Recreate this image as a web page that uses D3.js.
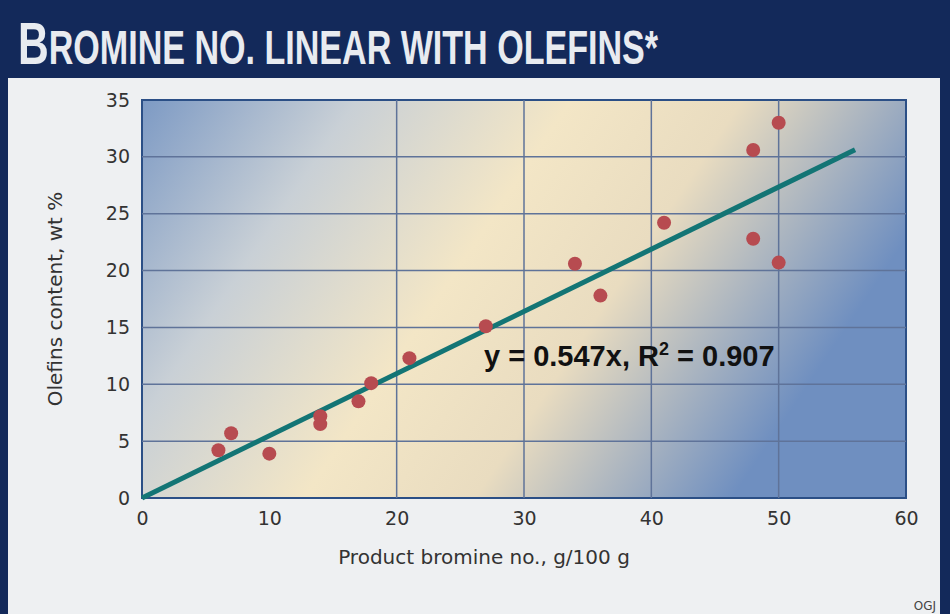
<!DOCTYPE html>
<html>
<head>
<script src="https://cdnjs.cloudflare.com/ajax/libs/d3/7.8.5/d3.min.js"></script>
<style>
  body { margin:0; background:#13295a; }
  svg { display:block; }
</style>
</head>
<body>
<svg width="950" height="614"></svg>
<script>
var bromine = [6, 7, 10, 14, 14, 17, 18, 21, 27, 34, 36, 41, 48, 48, 50, 50];
var olefins = [4.2, 5.7, 3.9, 7.2, 6.5, 8.5, 10.1, 12.3, 15.1, 20.6, 17.8, 24.2, 30.6, 22.8, 33, 20.7];
var slope = 0.547;
var fitRange = [0, 56];
var xTicks = [0, 10, 20, 30, 40, 50, 60];
var yTicks = [0, 5, 10, 15, 20, 25, 30, 35];
var vGrid = [20, 30, 40, 50];

var svg = d3.select("svg");
var x = d3.scaleLinear().domain([0, 60]).range([142, 906]);
var y = d3.scaleLinear().domain([0, 35]).range([498, 100]);

svg.append("rect").attr("width", 950).attr("height", 614).attr("fill", "#13295a");
svg.append("rect").attr("x", 8).attr("y", 78).attr("width", 932).attr("height", 536).attr("fill", "#eef0f2");

var title = svg.append("text").attr("x", 18).attr("y", 64)
  .attr("font-family", "Liberation Sans Narrow, Arial Narrow, sans-serif")
  .attr("font-weight", "bold").attr("fill", "#e8ebf0")
  .attr("textLength", 640).attr("lengthAdjust", "spacingAndGlyphs");
title.append("tspan").attr("font-size", 60).text("B");
title.append("tspan").attr("font-size", 48).text("ROMINE NO. LINEAR WITH OLEFINS*");

var defs = svg.append("defs");
var grad = defs.append("linearGradient").attr("id", "bg")
  .attr("x1", "0").attr("y1", "0").attr("x2", "1").attr("y2", "0.35");
[["0%", "#7d9ac4"], ["25%", "#c9d0d6"], ["50%", "#f3e6c6"], ["70%", "#e9dcc0"], ["100%", "#6f8fc0"]]
  .forEach(function(s) { grad.append("stop").attr("offset", s[0]).attr("stop-color", s[1]); });

svg.append("rect").attr("x", x(0)).attr("y", y(35)).attr("width", x(60) - x(0)).attr("height", y(0) - y(35))
  .attr("fill", "url(#bg)").attr("stroke", "#2b4f86").attr("stroke-width", 2);

var g = svg.append("g");
g.selectAll(".hg").data(yTicks.slice(1, -1)).enter().append("line")
  .attr("x1", x(0)).attr("x2", x(60)).attr("y1", d => y(d)).attr("y2", d => y(d))
  .attr("stroke", "#5f7399").attr("stroke-width", 1.5);
g.selectAll(".vg").data(vGrid).enter().append("line")
  .attr("y1", y(0)).attr("y2", y(35)).attr("x1", d => x(d)).attr("x2", d => x(d))
  .attr("stroke", "#5f7399").attr("stroke-width", 1.5);

svg.append("line").attr("x1", x(fitRange[0])).attr("y1", y(slope * fitRange[0]))
  .attr("x2", x(fitRange[1])).attr("y2", y(slope * fitRange[1]))
  .attr("stroke", "#137575").attr("stroke-width", 5);

svg.selectAll(".pt").data(bromine).enter().append("circle")
  .attr("cx", d => x(d)).attr("cy", (d, i) => y(olefins[i])).attr("r", 7)
  .attr("fill", "#b74b50");

var ax = svg.append("g").attr("transform", "translate(0," + y(0) + ")")
  .call(d3.axisBottom(x).tickValues(xTicks).tickSize(0).tickPadding(14).tickFormat(d3.format("d")));
var ay = svg.append("g").attr("transform", "translate(" + x(0) + ",0)")
  .call(d3.axisLeft(y).tickValues(yTicks).tickSize(0).tickPadding(12));
[ax, ay].forEach(function(a) {
  a.select(".domain").remove();
  a.selectAll("text").attr("font-family", "DejaVu Sans, sans-serif").attr("font-size", 19).attr("fill", "#333");
});

svg.append("text").attr("x", (x(0) + x(60)) / 2 - 40).attr("y", 564).attr("text-anchor", "middle")
  .attr("font-family", "DejaVu Sans, sans-serif").attr("font-size", 20).attr("fill", "#333")
  .text("Product bromine no., g/100 g");
svg.append("text").attr("transform", "translate(62," + (y(17.5)) + ") rotate(-90)").attr("text-anchor", "middle")
  .attr("font-family", "DejaVu Sans, sans-serif").attr("font-size", 20).attr("fill", "#333")
  .text("Olefins content, wt %");

var eq = svg.append("text").attr("x", 484).attr("y", 366)
  .attr("font-family", "Liberation Sans, Arial, sans-serif").attr("font-weight", "bold")
  .attr("font-size", 29).attr("fill", "#111");
eq.append("tspan").text("y = 0.547x, R");
eq.append("tspan").attr("font-size", 18).attr("dy", -11).text("2");
eq.append("tspan").attr("dy", 11).text(" = 0.907");

svg.append("text").attr("x", 936).attr("y", 610).attr("text-anchor", "end")
  .attr("font-family", "DejaVu Sans, sans-serif").attr("font-size", 12).attr("fill", "#444").text("OGJ");
</script>
</body>
</html>
